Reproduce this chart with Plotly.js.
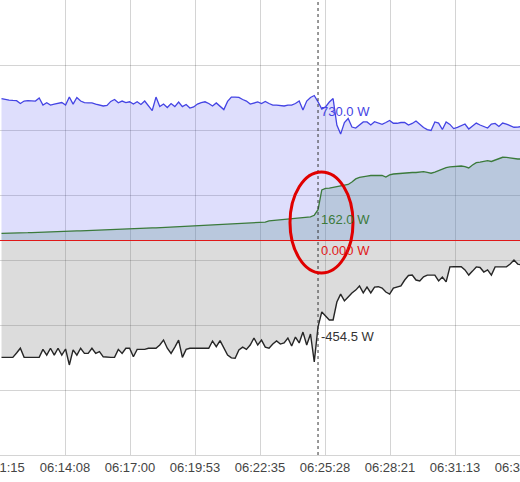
<!DOCTYPE html>
<html>
<head>
<meta charset="utf-8">
<script src="https://cdn.plot.ly/plotly-3.0.1.min.js"></script>
<style>
  html, body { margin: 0; padding: 0; background: #ffffff; overflow: hidden; }
  #chart { width: 520px; height: 482px; }
</style>
</head>
<body>
<div id="chart"></div>
<script>
// Tick labels (clock time) shown along the bottom axis
const tickLabels = ["06:11:15", "06:14:08", "06:17:00", "06:19:53", "06:22:35",
                    "06:25:28", "06:28:21", "06:31:13", "06:34:06"];

// Sample timing: seconds after 06:11:15, one sample every 10 s
const firstSampleSec = 4;
const sampleStepSec = 10;

// Consumption / load (W) - blue
const loadW = [
  747, 742, 739, 737, 736, 721, 734, 736, 736, 734, 750,
  713, 725, 713, 718, 721, 726, 713, 755, 718, 753,
  734, 726, 724, 724, 718, 713, 708, 711, 732, 742,
  725, 734, 726, 730, 718, 730, 716, 734, 711, 684,
  755, 705, 718, 700, 721, 705, 729, 705, 716, 697,
  703, 718, 726, 730, 721, 708, 724, 705, 689, 732,
  755, 755, 753, 742, 734, 718, 724, 729, 721, 732,
  721, 713, 713, 711, 708, 713, 713, 721, 734, 687,
  734, 753, 763, 730, 692, 703, 729, 747, 608, 560,
  621, 642, 597, 592, 608, 624, 624, 608, 625, 620,
  611, 621, 632, 617, 617, 621, 621, 608, 616, 629,
  611, 595, 584, 579, 624, 618, 584, 624, 611, 589,
  595, 605, 613, 587, 603, 618, 608, 600, 592, 613,
  616, 600, 618, 613, 603, 596, 597, 600
];

// Solar production (W) - green
const solarW = [
  38, 38, 39, 39, 40, 40, 41, 41, 42, 43, 43,
  44, 45, 46, 46, 47, 48, 49, 50, 50, 51,
  51, 52, 53, 53, 54, 55, 55, 56, 57, 58,
  59, 60, 61, 62, 63, 64, 64, 65, 66, 67,
  67, 68, 69, 70, 71, 72, 72, 73, 74, 75,
  76, 77, 78, 79, 80, 81, 82, 83, 84, 85,
  87, 88, 89, 90, 91, 92, 93, 95, 96, 97,
  103, 105, 106, 108, 110, 112, 114, 116, 117, 119,
  121, 124, 133, 162, 266, 274, 276, 280, 283, 286,
  289, 295, 308, 324, 332, 334, 339, 342, 342, 345,
  342, 334, 345, 350, 352, 354, 354, 355, 358, 358,
  362, 362, 358, 354, 360, 368, 379, 384, 387, 389,
  392, 392, 389, 382, 397, 410, 413, 418, 420, 416,
  424, 432, 438, 437, 434, 429, 429, 429
];

// Grid exchange (W) - black
const gridW = [
  -615, -615, -615, -615, -592, -567, -615, -615, -615, -615, -615,
  -573, -603, -567, -603, -567, -603, -571, -655, -576, -603,
  -567, -594, -594, -567, -594, -585, -612, -615, -615, -615,
  -573, -594, -567, -567, -612, -573, -573, -573, -567, -567,
  -567, -550, -524, -567, -594, -561, -524, -615, -573, -567,
  -567, -567, -567, -567, -567, -529, -559, -527, -567, -603,
  -618, -620, -576, -561, -573, -550, -513, -550, -524, -561,
  -567, -545, -529, -545, -539, -513, -555, -508, -539, -482,
  -550, -492, -639, -454.5, -376, -397, -418, -418, -324, -282,
  -318, -297, -276, -261, -239, -276, -245, -276, -245, -243,
  -250, -271, -282, -250, -243, -239, -208, -184, -182, -208,
  -213, -191, -182, -182, -182, -213, -192, -218, -139, -138,
  -138, -138, -155, -182, -161, -139, -142, -166, -155, -182,
  -139, -139, -138, -138, -124, -103, -124, -129
];

// Battery (W) - red, constant zero over the window
const batteryTimes = [0, 1380];
const batteryW = [0, 0];

// Index of the sample under the cursor
const hoverIndex = 84;

const times = loadW.map((_, i) => firstSampleSec + sampleStepSec * i);
const tickVals = tickLabels.map((_, i) => i * 172.5);

const FONT = "Arial, 'Liberation Sans', sans-serif";
const BLUE = '#4444e4', GREEN = '#3b7a3b', BLACK = '#262626', RED = '#e01818';

const traces = [
  { x: times, y: loadW, type: 'scatter', mode: 'lines', fill: 'tozeroy',
    fillcolor: 'rgba(90,90,240,0.2)', line: { color: BLUE, width: 1.3 } },
  { x: times, y: solarW, type: 'scatter', mode: 'lines', fill: 'tozeroy',
    fillcolor: 'rgba(100,150,150,0.3)', line: { color: GREEN, width: 1.3 } },
  { x: times, y: gridW, type: 'scatter', mode: 'lines', fill: 'tozeroy',
    fillcolor: 'rgba(120,120,120,0.26)', line: { color: BLACK, width: 1.4 } },
  { x: batteryTimes, y: batteryW, type: 'scatter', mode: 'lines',
    line: { color: RED, width: 1.2 } }
];

const hx = times[hoverIndex];
function label(val, txt, color) {
  return { x: hx, y: val, xref: 'x', yref: 'y', text: txt, showarrow: false,
           xanchor: 'left', yanchor: 'top', xshift: 1, yshift: 0,
           font: { family: FONT, size: 13, color: color } };
}

const layout = {
  width: 520, height: 482,
  margin: { l: 0, r: 0, t: 0, b: 27, pad: 0 },
  paper_bgcolor: '#ffffff', plot_bgcolor: '#ffffff',
  showlegend: false,
  xaxis: {
    range: [0, 1380], tickmode: 'array', tickvals: tickVals, ticktext: tickLabels,
    showgrid: true, gridcolor: 'rgba(0,0,0,0.17)', gridwidth: 1,
    zeroline: false, showline: true, linecolor: 'rgba(0,0,0,0.17)', linewidth: 1,
    ticks: '', ticklabeloverflow: 'allow', automargin: false,
    tickfont: { family: FONT, size: 13, color: '#444444' }
  },
  yaxis: {
    range: [-1128.9, 1265.8], tickmode: 'linear', tick0: -102.6, dtick: 342.1,
    showticklabels: false, showgrid: true, gridcolor: 'rgba(0,0,0,0.17)', gridwidth: 1,
    zeroline: false, showline: false, ticks: '', automargin: false
  },
  shapes: [
    { type: 'line', xref: 'x', yref: 'paper', x0: hx, x1: hx, y0: 0, y1: 1,
      line: { color: '#333333', width: 1, dash: 'dot' } },
    { type: 'circle', xref: 'paper', yref: 'paper',
      x0: 290 / 520, x1: 353 / 520, y0: (455 - 273) / 455, y1: (455 - 172) / 455,
      line: { color: '#e00000', width: 3 } }
  ],
  annotations: [
    label(loadW[hoverIndex], loadW[hoverIndex].toFixed(1) + ' W', BLUE),
    label(solarW[hoverIndex], solarW[hoverIndex].toFixed(1) + ' W', GREEN),
    label(batteryW[0], batteryW[0].toFixed(3) + ' W', RED),
    label(gridW[hoverIndex], gridW[hoverIndex].toFixed(1) + ' W', '#333333')
  ]
};

Plotly.newPlot('chart', traces, layout, { staticPlot: true, displayModeBar: false });
</script>
</body>
</html>
